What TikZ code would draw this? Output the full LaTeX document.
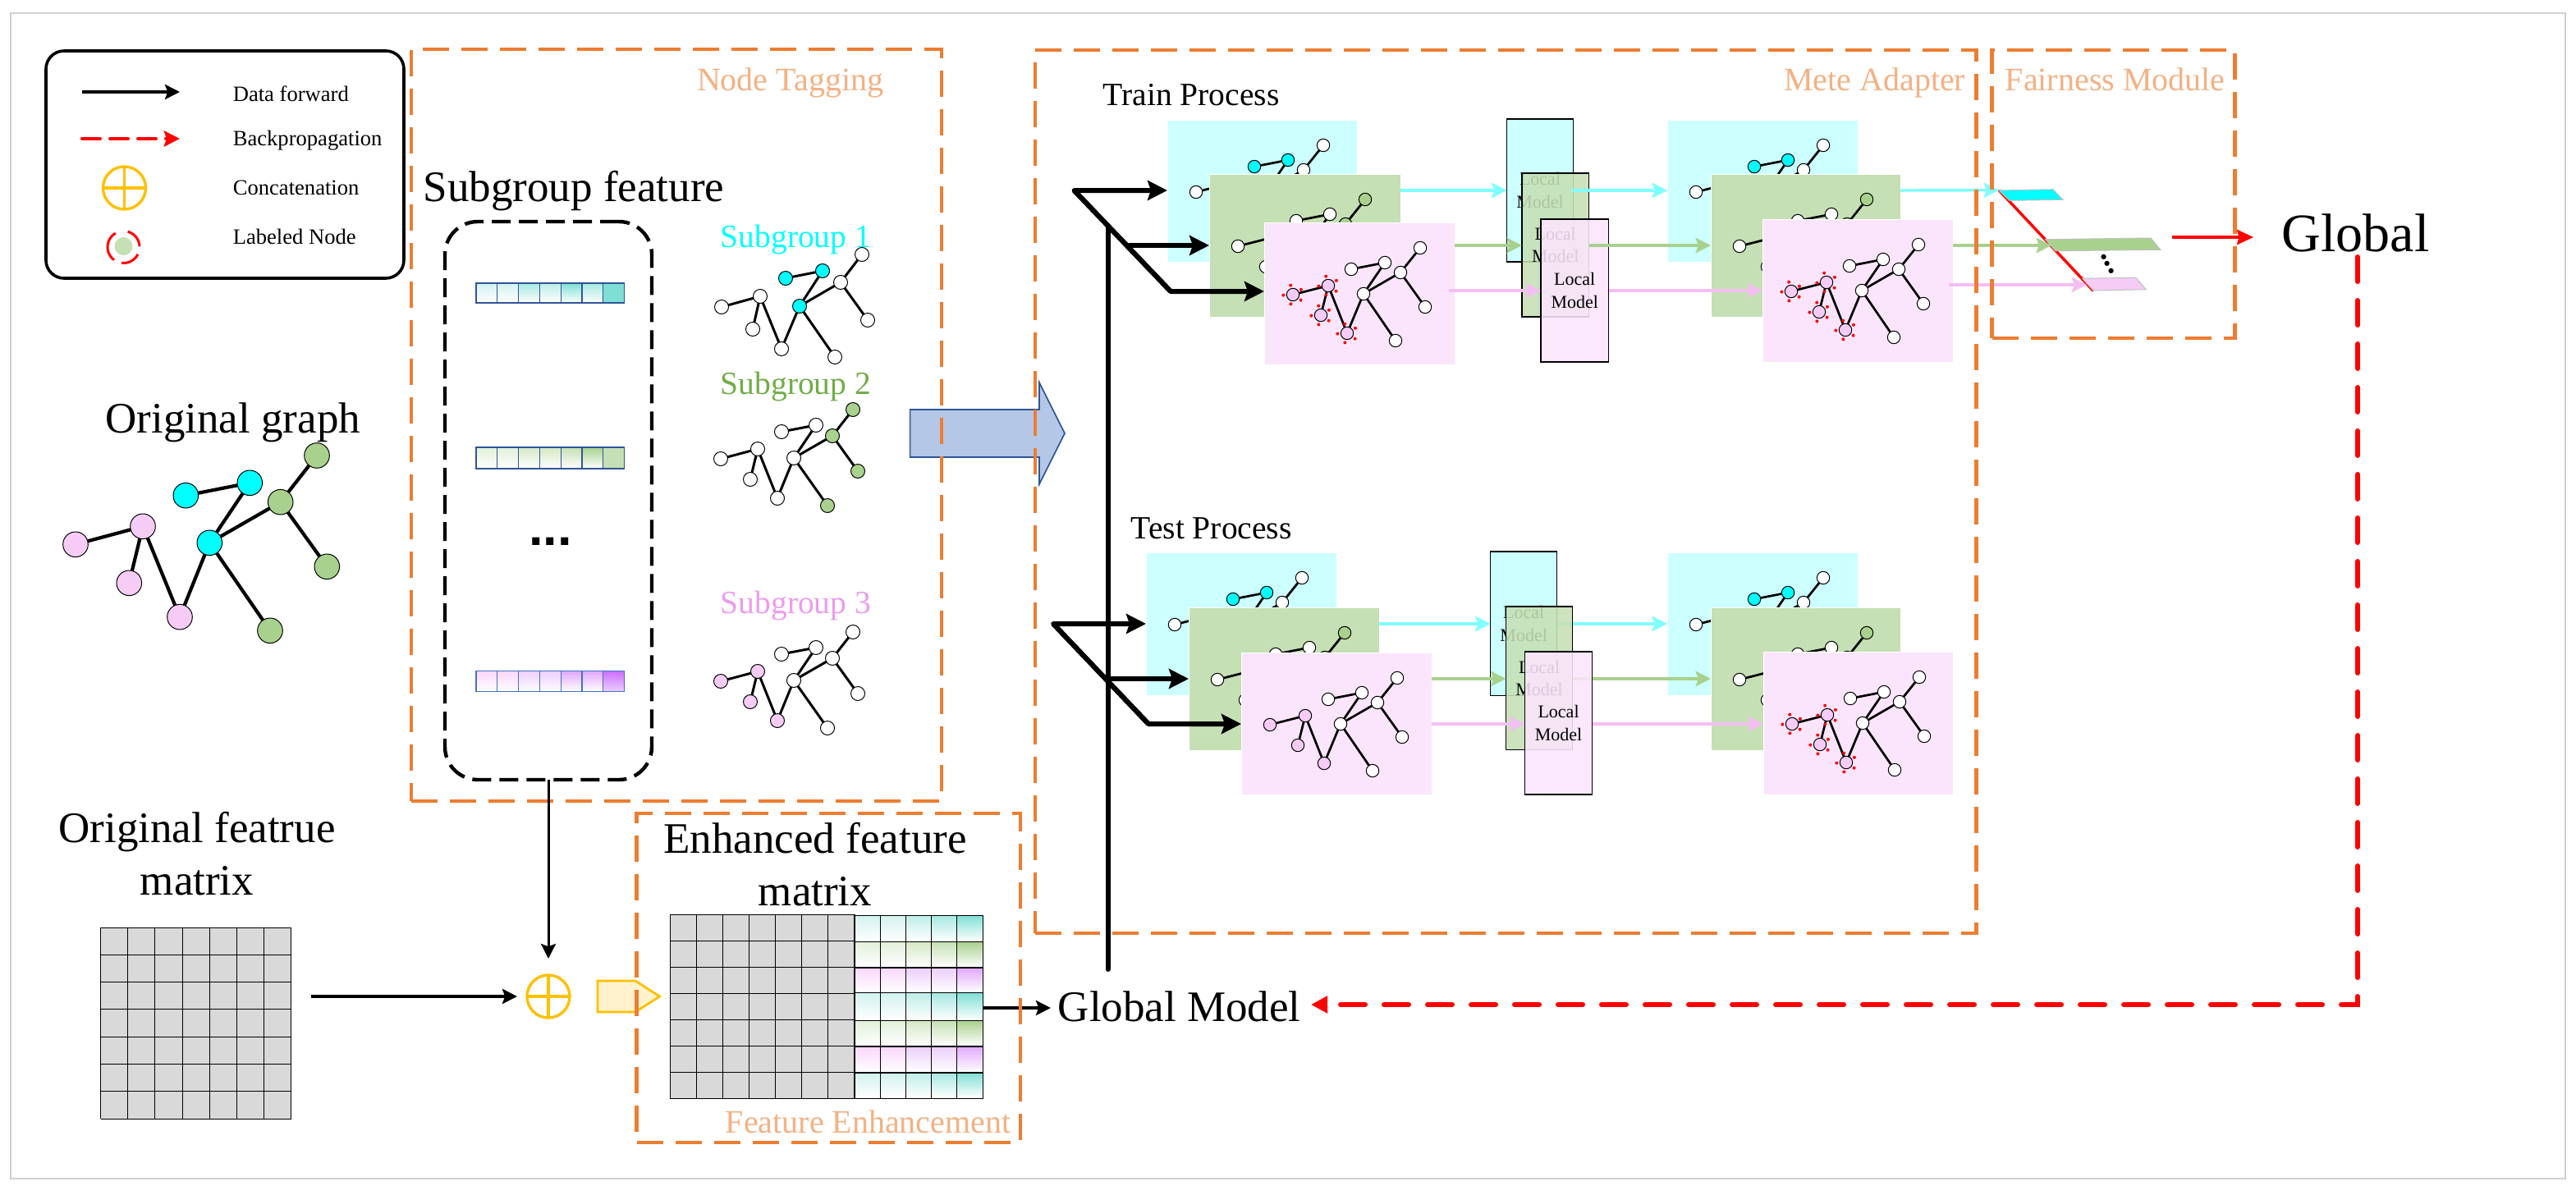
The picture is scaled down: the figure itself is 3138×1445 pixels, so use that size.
\documentclass[tikz,border=0pt]{standalone}
\usepackage{fontspec}
\setmainfont{Liberation Serif}
\newfontfamily\dotsans{Liberation Sans}
\usetikzlibrary{arrows.meta,calc}
\newcommand\pxf[1]{\fontsize{\dimexpr #1pt/4\relax}{\dimexpr #1pt*5/16\relax}\selectfont}
\definecolor{orangeB}{HTML}{ED7D31}
\definecolor{orangeT}{HTML}{F4B183}
\definecolor{goldC}{HTML}{FFC000}
\definecolor{goldF}{HTML}{FFF2CC}
\definecolor{panelC}{HTML}{CCFFFF}
\definecolor{panelG}{HTML}{C5E0B4}
\definecolor{panelP}{HTML}{FBE5FC}
\definecolor{nodeC}{HTML}{00FFFF}
\definecolor{nodeP}{HTML}{F6CCF6}
\definecolor{nodeG}{HTML}{A9D18E}
\definecolor{arrC}{HTML}{7FFFFF}
\definecolor{arrP}{HTML}{F4BEF4}
\definecolor{cellgray}{HTML}{D9D9D9}
\definecolor{barblue}{HTML}{2F5597}
\definecolor{barblueL}{HTML}{4472C4}
\definecolor{bluefill}{HTML}{B4C7E7}
\definecolor{sgGreen}{HTML}{70AD47}
\definecolor{sgPink}{HTML}{EE9BEE}
\definecolor{edgegray}{HTML}{BFBFBF}
\definecolor{framegray}{HTML}{CFCFCF}
\definecolor{pureRed}{HTML}{FF0000}
\definecolor{cyA}{HTML}{D2F2EF}\definecolor{cyB}{HTML}{BDEDE7}\definecolor{cyC}{HTML}{A5E8E0}\definecolor{cyD}{HTML}{7FDFD5}
\definecolor{grA}{HTML}{E2F0D9}\definecolor{grB}{HTML}{D5E8C5}\definecolor{grC}{HTML}{C5E0B4}\definecolor{grD}{HTML}{A9D18E}
\definecolor{puA}{HTML}{F9D7FC}\definecolor{puB}{HTML}{ECCEFC}\definecolor{puC}{HTML}{E0A8FC}\definecolor{puD}{HTML}{CC6FFC}
\tikzset{
  rectbase/.style={rectangle,inner sep=0pt,outer sep=0pt},
  panel/.style={draw=white,line width=.25pt},
  obox/.style={draw=orangeB,line width=1.15pt,dash pattern=on 8pt off 3.75pt},
  otext/.style={text=orangeT,font=\pxf{40},inner sep=0pt},
  bigtext/.style={font=\pxf{53},inner sep=0pt},
  legtext/.style={font=\pxf{26.6},inner sep=0pt,anchor=base west},
  midtext/.style={font=\pxf{39.5},inner sep=0pt,anchor=base west},
  gnode/.style={circle,draw=black,line width=.25pt,inner sep=0pt,outer sep=0pt},
  localbox/.style={draw=black,line width=.28pt,font=\pxf{22},align=center},
  localtrans/.style={localbox,fill opacity=.88,draw opacity=1,text opacity=1},
  bigarr/.style={draw=black,line width=1.5pt,line join=round,-{Stealth[length=6pt,width=6pt,inset=1pt]}},
  thinarr/.style={draw=black,line width=1pt,-{Stealth[length=4.5pt,width=4.5pt,inset=.8pt]}},
  colarr/.style={draw=#1,line width=.85pt,-{Stealth[length=4.6pt,width=4.6pt,inset=.8pt,#1]}},
  redsolid/.style={draw=pureRed,line width=.8pt,-{Stealth[length=5pt,width=4.6pt,inset=.6pt]}},
  reddash/.style={draw=pureRed,line width=1.5pt,line cap=round,dash pattern=on 7.5pt off 5.75pt,-{Stealth[length=5pt,width=5pt,inset=0pt]}},
  concat/.style={circle,draw=goldC,line width=.85pt,inner sep=0pt,outer sep=0pt,minimum size=13pt},
}
\newcommand\rectnode[7]{\node[rectbase,#6,minimum width={(#4-#2)*.25pt},minimum height={(#5-#3)*.25pt}] (#1) at ({(#2+#4)/2},{(#3+#5)/2}) {#7};}
\newcommand\mkgraph[9]{%
  \colorlet{fillA}{#7}\colorlet{fillE}{#8}\colorlet{fillH}{#9}%
  \foreach \n/\px/\py/\g in #4 {
    \node[gnode,fill=fill\g,minimum size={2*#5*.25pt},name=#1\n] at ({#2+\px},{#3+\py}) {};
  }
  \draw[line width={#6*.25pt},black] (#1a)--(#1b) (#1b)--(#1c) (#1b)--(#1d) (#1d)--(#1e) (#1e)--(#1g) (#1f)--(#1g) (#1e)--(#1h) (#1h)--(#1i) (#1h)--(#1j) (#1e)--(#1k);
}
\newcommand\redmarks[1]{%
  \foreach \n in {a,b,c,d}{
    \foreach \t in {32,104,183,257,325}{
      \fill[pureRed] ([shift={(-\t:11.7)}]#1\n.center) circle[radius=.5pt];
    }
  }
}
\newcommand\grayfield[4]{%
  \fill[cellgray] (#1,#2) rectangle ({#1+7*#3},{#2+7*#4});
  \foreach \i in {0,...,7}{
    \draw[black,line width=.24pt] ({#1+\i*#3},#2) -- ({#1+\i*#3},{#2+7*#4});
    \draw[black,line width=.24pt] (#1,{#2+\i*#4}) -- ({#1+7*#3},{#2+\i*#4});
  }
}
\newcommand\featbar[4]{%
  \foreach \c/\b [count=\i from 0] in {#4}{
    \shade[top color=\c,middle color=\c!85!white,bottom color=\b] ({580+\i*25.8},#1) rectangle +(25.8,{#2-#1});
    \draw[#3,line width=.28pt] ({580+\i*25.8},#1) rectangle +(25.8,{#2-#1});
  }
}
\newcommand\colorrow[3]{%
  \foreach \c [count=\i from 0] in {#3}{
    \shade[top color=\c,middle color=\c!85!white,bottom color=white] ({1041+\i*31.2},#1) rectangle +(31.2,{#2-#1});
    \draw[black,line width=.24pt] ({1041+\i*31.2},#1) rectangle +(31.2,{#2-#1});
  }
}
\def\layoutP{a/35/88/A,b/78/77/A,c/69/113/A,d/101/135/A,e/121/87/E,f/106/57/E,g/147/49/E,h/166/61/H,i/190/31/H,j/196/103/H,k/160/144/H}
\def\layoutS{a/879/374/A,b/926/361/A,c/917/401/A,d/952/425/A,e/974/373/E,f/957/339/E,g/1002/330/E,h/1024/344/H,i/1050/310/H,j/1057/390/H,k/1017/435/H}
\def\layoutT{a/878/559/A,b/923/547/A,c/914/584/A,d/947/607/A,e/967/558/E,f/952/526/E,g/994/518/E,h/1014/531/H,i/1039/499/H,j/1045/574/H,k/1008/616/H}
\def\layoutO{a/92/663.3/A,b/174/641.3/A,c/157.3/710.3/A,d/219/751.7/A,e/255.3/661.3/E,f/226.3/603.7/E,g/304.3/588.3/E,h/341.7/611.7/H,i/386/555/H,j/398.3/690.3/H,k/329/768.3/H}
\begin{document}
\begin{tikzpicture}[x=.25pt,y=-.25pt]
\useasboundingbox (0,0) rectangle (3138,1445);
\fill[white] (0,0) rectangle (3138,1445);
\draw[framegray,line width=.3pt] (13,16) rectangle (3125,1436);

% legend
\rectnode{legend}{56}{62}{492}{339}{draw=black,line width=.9pt,rounded corners=5.5pt}{}
\coordinate (la1) at (100,112); \coordinate (la2) at (219,112);
\coordinate (lb1) at (100,169); \coordinate (lb2) at (219,169);
\draw[thinarr] (la1) -- (la2);
\draw[draw=pureRed,line width=1pt,line cap=round,dash pattern=on 5.5pt off 3pt,-{Stealth[length=4.8pt,width=4.8pt,inset=.8pt]}] (lb1) -- (lb2);
\node[concat] (lc) at (151.5,229) {};
\draw[goldC,line width=.85pt] (lc.north)--(lc.south) (lc.west)--(lc.east);
\node[circle,fill=panelG,inner sep=0pt,minimum size=5.5pt] (ln) at (150.5,300) {};
\foreach \s/\e in {2/75,-97/-27,120/234}{
  \draw[pureRed,line width=.75pt] plot[domain=\s:\e,samples=14] ({150.5+19.5*cos(\x)},{301-19.5*sin(\x)});
}
\node[legtext] (lt1) at (283,123) {Data forward};
\node[legtext] (lt2) at (283,177) {Backpropagation};
\node[legtext] (lt3) at (283,237) {Concatenation};
\node[legtext] (lt4) at (283,297) {Labeled Node};

% original graph
\node[bigtext,anchor=base west] (ogt) at (127.7,527) {Original graph};
\mkgraph{og}{0}{0}{\layoutO}{15.3}{4.2}{nodeP}{nodeC}{nodeG}

% original matrix
\node[bigtext,anchor=base] (omt1) at (240,1026) {Original featrue};
\node[bigtext,anchor=base] (omt2) at (240,1090) {matrix};
\grayfield{122.6}{1130}{33.14}{33.3}

% subgroup feature
\node[bigtext,anchor=base west] (sft) at (515,245) {Subgroup feature};
\rectnode{sfb}{542}{270}{794}{950}{draw=black,line width=1.1pt,rounded corners=10pt,dash pattern=on 5.75pt off 2.5pt}{}
\featbar{345}{369}{barblue}{cyA/white,cyA/white,cyC/white,cyB/white,cyD/white,cyC/white,cyD/cyD}
\featbar{545}{571}{barblue}{grA/white,grA/white,grB/white,grB/white,grC/white,grD/white,grC/grC}
\featbar{817.5}{842.5}{barblueL}{puA/white,puA/white,puB/white,puB/white,puC/white,puC/white,puD/puB}
\node[inner sep=0pt,anchor=base,font=\dotsans\bfseries\pxf{63}] (sfd) at (670.5,664) {...};

% subgroup graphs
\node[midtext,text=nodeC] (s1t) at (877,301) {Subgroup 1};
\node[midtext,text=sgGreen] (s2t) at (877,480) {Subgroup 2};
\node[midtext,text=sgPink] (s3t) at (877,747) {Subgroup 3};
\mkgraph{sa}{0}{0}{\layoutS}{8.5}{3}{white}{nodeC}{white}
\mkgraph{sb}{0}{0}{\layoutT}{8.5}{3}{white}{white}{nodeG}
\mkgraph{sc}{0}{271}{\layoutT}{8.5}{3}{nodeP}{white}{white}

% blue arrow
\filldraw[fill=bluefill,draw=barblue,line width=.4pt] (1108.6,499) -- (1266,499) -- (1266,466) -- (1297,528) -- (1266,590) -- (1266,557) -- (1108.6,557) -- cycle;

% train panels
\node[midtext] (trt) at (1343,128) {Train Process};
\rectnode{tC}{1422}{146}{1653}{319}{panel,fill=panelC}{}
\mkgraph{tCg}{1422}{146}{\layoutP}{7.7}{2.7}{white}{nodeC}{white}
\rectnode{tG}{1473}{212}{1706}{386}{panel,fill=panelG}{}
\mkgraph{tGg}{1473}{212}{\layoutP}{7.7}{2.7}{white}{white}{nodeG}
\rectnode{tP}{1540}{271}{1772}{444}{panel,fill=panelP}{}
\mkgraph{tPg}{1540}{271}{\layoutP}{7.7}{2.7}{nodeP}{white}{white}
\redmarks{tPg}
\rectnode{rC}{2031}{146}{2263}{319}{panel,fill=panelC}{}
\mkgraph{rCg}{2031}{146}{\layoutP}{7.7}{2.7}{white}{nodeC}{white}
\rectnode{rG}{2084}{212}{2315}{386}{panel,fill=panelG}{}
\mkgraph{rGg}{2084}{212}{\layoutP}{7.7}{2.7}{white}{white}{nodeG}
\rectnode{rP}{2147}{267}{2379}{441}{panel,fill=panelP}{}
\mkgraph{rPg}{2147}{267}{\layoutP}{7.7}{2.7}{nodeP}{white}{white}
\redmarks{rPg}

% test panels
\node[midtext] (tet) at (1377,656) {Test Process};
\rectnode{eC}{1396}{673}{1628}{847}{panel,fill=panelC}{}
\mkgraph{eCg}{1396}{673}{\layoutP}{7.7}{2.7}{white}{nodeC}{white}
\rectnode{eG}{1448}{740}{1680}{914}{panel,fill=panelG}{}
\mkgraph{eGg}{1448}{740}{\layoutP}{7.7}{2.7}{white}{white}{nodeG}
\rectnode{eP}{1512}{795}{1744}{968}{panel,fill=panelP}{}
\mkgraph{ePg}{1512}{795}{\layoutP}{7.7}{2.7}{nodeP}{white}{white}
\rectnode{fC}{2031}{673}{2263}{847}{panel,fill=panelC}{}
\mkgraph{fCg}{2031}{673}{\layoutP}{7.7}{2.7}{white}{nodeC}{white}
\rectnode{fG}{2084}{740}{2315}{914}{panel,fill=panelG}{}
\mkgraph{fGg}{2084}{740}{\layoutP}{7.7}{2.7}{white}{white}{nodeG}
\rectnode{fP}{2148}{794}{2379}{968}{panel,fill=panelP}{}
\mkgraph{fPg}{2148}{794}{\layoutP}{7.7}{2.7}{nodeP}{white}{white}
\redmarks{fPg}

% rows for the coloured arrows
\coordinate (rowTC) at (0,232); \coordinate (rowTG) at (0,299); \coordinate (rowTP) at (0,354);
\coordinate (rowEC) at (0,760); \coordinate (rowEG) at (0,827); \coordinate (rowEP) at (0,882);

% train local models
\rectnode{tL1}{1835.5}{145}{1916.6}{319}{localbox,fill=panelC}{Local\\Model}
\rectnode{tL2}{1854}{211}{1935.5}{386}{localtrans,fill=panelG}{Local\\Model}
\rectnode{tL3}{1877}{267}{1959.5}{441}{localtrans,fill=panelP}{Local\\Model}
\draw[colarr=arrC] (tG.east |- rowTC) -- (tL1.west |- rowTC);
\coordinate (tCo) at (1914.6,232);
\draw[colarr=arrC] (tCo) -- (rC.west |- rowTC);
\draw[colarr=nodeG] (tP.east |- rowTG) -- (tL2.west |- rowTG);
\draw[colarr=nodeG] (tL2.east |- rowTG) -- (rG.west |- rowTG);
\coordinate (tPi) at (1765,354);
\draw[colarr=arrP] (tPi) -- (tL3.west |- rowTP);
\draw[colarr=arrP] (tL3.east |- rowTP) -- (rP.west |- rowTP);

% test local models
\rectnode{eL1}{1815.6}{672}{1896.7}{847.7}{localbox,fill=panelC}{Local\\Model}
\draw[colarr=arrC] (eL1.east |- rowEC) -- (fC.west |- rowEC);
\rectnode{eL2}{1834.5}{739}{1915.6}{913.7}{localtrans,fill=panelG}{Local\\Model}
\draw[colarr=nodeG] (eL2.east |- rowEG) -- (fG.west |- rowEG);
\rectnode{eL3}{1857.5}{794}{1939.6}{968}{localtrans,fill=panelP}{Local\\Model}
\draw[colarr=arrC] (eG.east |- rowEC) -- (eL1.west |- rowEC);
\draw[colarr=nodeG] (eP.east |- rowEG) -- (eL2.west |- rowEG);
\draw[colarr=arrP] (eP.east |- rowEP) -- (eL3.west |- rowEP);
\draw[colarr=arrP] (eL3.east |- rowEP) -- (fP.west |- rowEP);

% fairness module
\coordinate (fairTop) at (2435,231.7); \coordinate (fairBot) at (2550,354.3);
\draw[pureRed,line width=.85pt] (fairTop) -- (fairBot);
\filldraw[fill=nodeC,draw=edgegray,line width=.25pt] (2435,232) -- (2501,230.7) -- (2512.7,243.3) -- (2448,244.3) -- cycle;
\filldraw[fill=nodeG,draw=edgegray,line width=.25pt] (2491.7,291.7) -- (2620,290) -- (2631.7,304.3) -- (2504,305.7) -- cycle;
\filldraw[fill=nodeP,draw=edgegray,line width=.25pt] (2536.7,339.3) -- (2601.7,338.3) -- (2614.3,352.7) -- (2550,354) -- cycle;
\node[inner sep=0pt,anchor=base,rotate=-60,font=\bfseries\pxf{38}] (fdots) at (2565.3,323) {...};
\draw[colarr=arrC] (rG.east |- rowTC) -- (fairTop);
\coordinate (fairG) at (2499,299);
\draw[colarr=nodeG] (rP.east |- rowTG) -- (fairG);
\coordinate (fairPs) at (2373.7,347); \coordinate (fairP) at (2542,347);
\draw[colarr=arrP] (fairPs) -- (fairP);

% feature enhancement parts
\node[concat] (cc) at (668,1214) {};
\draw[goldC,line width=.85pt] (cc.north)--(cc.south) (cc.west)--(cc.east);
\filldraw[fill=goldF,draw=goldC,line width=.7pt] (728,1195) -- (774,1195) -- (803.6,1214) -- (774,1233) -- (728,1233) -- cycle;
\node[bigtext,anchor=base] (emt1) at (993,1039) {Enhanced feature};
\node[bigtext,anchor=base] (emt2) at (993,1103) {matrix};
\grayfield{816}{1114}{32.1}{32}
\rectnode{enh}{816}{1114}{1197}{1338}{}{}
\colorrow{1115}{1147}{cyA,cyA,cyB,cyC,cyD}
\colorrow{1147}{1179}{grA,grA,grB,grC,grD}
\colorrow{1179}{1209.3}{puA,puA,puB,puB,puC}
\colorrow{1209.3}{1243.3}{cyA,cyA,cyB,cyC,cyD}
\colorrow{1243.3}{1274.7}{grA,grA,grB,grC,grD}
\colorrow{1274.7}{1306.7}{puA,puA,puB,puB,puC}
\colorrow{1306.7}{1338}{cyA,cyA,cyB,cyC,cyD}
\draw[black,line width=.55pt] (1041,1179)--(1197,1179) (1041,1274.7)--(1197,1274.7) (1041,1306.7)--(1197,1306.7) (1041,1114)--(1041,1338);
\node[bigtext,anchor=base west] (gm) at (1288,1244) {Global Model};
\coordinate (gmIn) at (1280,1228);
\coordinate (enhOut) at (1197,1228);
\draw[thinarr] (enhOut) -- (gmIn);
\coordinate (omOut) at (379,1214);
\draw[thinarr] (omOut) -- ([xshift=-3pt]cc.west);

% global
\node[inner sep=0pt,anchor=base west,font=\pxf{66}] (glob) at (2779,306) {Global};
\coordinate (gr1) at (2646,289); \coordinate (gr2) at (2745,289);
\draw[redsolid] (gr1) -- (gr2);
\coordinate (bp0) at (2872,313); \coordinate (bp1) at (2872,1224); \coordinate (bp2) at (1597,1224);
\draw[reddash] (bp0) -- (bp1) -- (bp2);

% thick process arrows
\coordinate (tj) at (1308.5,232); \coordinate (tk) at (1426,355); \coordinate (tb) at (1349.5,277); \coordinate (tm) at (1375,299); \coordinate (busEnd) at (1349.5,1181);
\coordinate (ej) at (1283,760); \coordinate (ek) at (1399,882); \coordinate (em) at (1349.5,827);
\draw[bigarr] (tk) -- (tj) -- (tC.west |- tj);
\draw[bigarr] (tj) -- (tk) -- (tP.west |- tk);
\draw[bigarr] (tm) -- (tG.west |- tm);
\draw[bigarr] (ek) -- (ej) -- (eC.west |- ej);
\draw[bigarr] (ej) -- (ek) -- (eP.west |- ek);
\draw[bigarr] (em) -- (eG.west |- em);
\draw[black,line width=1.5pt,line cap=round] (tb) -- (busEnd);

% orange module boxes
\rectnode{mNT}{501}{60}{1147}{976}{obox}{}
\rectnode{mFE}{775.7}{991}{1243}{1392}{obox}{}
\rectnode{mMA}{1261}{61}{2407.5}{1137}{obox}{}
\rectnode{mFM}{2426.6}{61}{2722.6}{412}{obox}{}
\node[otext,anchor=base east] (ntt) at (1077,110) {Node Tagging};
\node[otext,anchor=base west] (fet) at (883,1380) {Feature Enhancement};
\node[otext,anchor=base east] (mat) at (2395,110) {Mete Adapter};
\node[otext,anchor=base west] (fmt) at (2442,110) {Fairness Module};

% subgroup to concatenation
\draw[draw=black,line width=.75pt,-{Stealth[length=4.5pt,width=4.5pt,inset=.8pt]}] (sfb.south) -- ([yshift=5pt]cc.north);
\end{tikzpicture}
\end{document}
